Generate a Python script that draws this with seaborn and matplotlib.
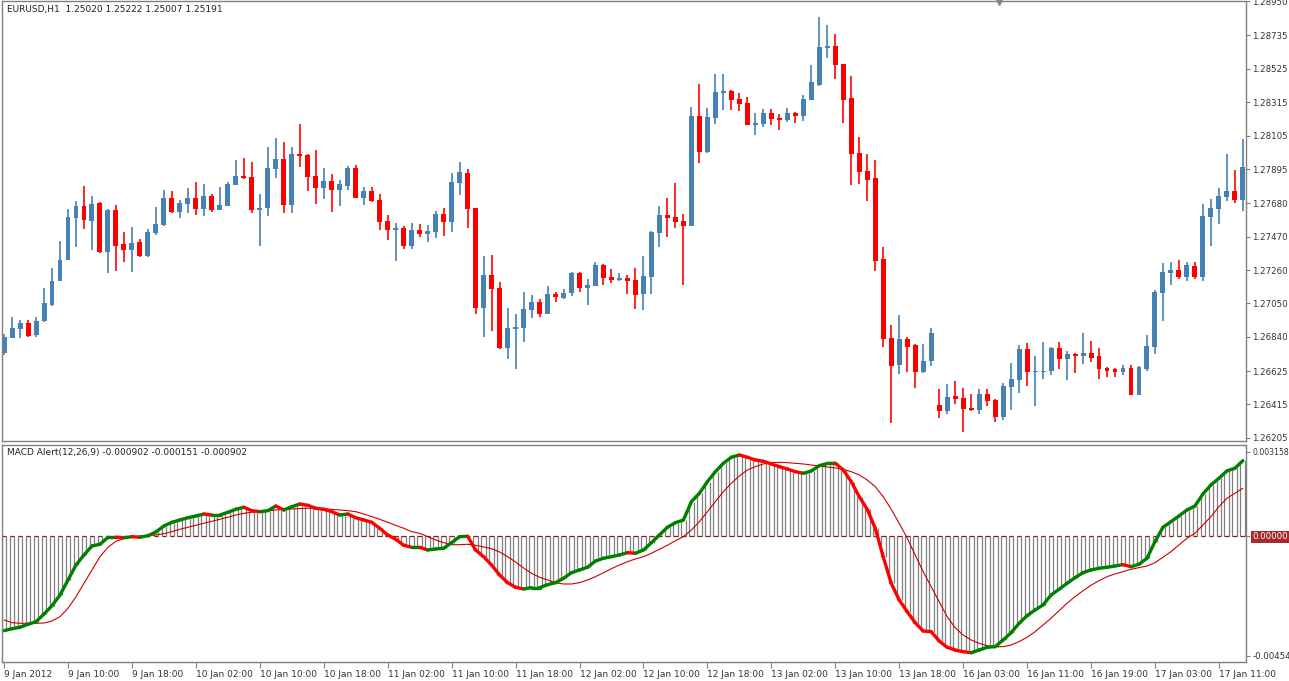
import numpy as np
import pandas as pd
import matplotlib
matplotlib.use("Agg")
import matplotlib.pyplot as plt
import seaborn as sns

# EURUSD H1 candles, 9 Jan 2012 02:00 .. 17 Jan 2012 11:00
open_ = [1.26736, 1.26832, 1.26890, 1.26928, 1.26851, 1.26941, 1.27043, 1.27190, 1.27325, 1.27587,
         1.27664, 1.27568, 1.27683, 1.27376, 1.27638, 1.27421, 1.27389, 1.27434, 1.27350, 1.27491,
         1.27542, 1.27715, 1.27626, 1.27677, 1.27715, 1.27645, 1.27728, 1.27638, 1.27664, 1.27792,
         1.27850, 1.27843, 1.27638, 1.27651, 1.27894, 1.27958, 1.27670, 1.27990, 1.27984, 1.27850,
         1.27773, 1.27818, 1.27766, 1.27786, 1.27901, 1.27715, 1.27760, 1.27702, 1.27568, 1.27510,
         1.27523, 1.27414, 1.27510, 1.27485, 1.27498, 1.27613, 1.27562, 1.27805, 1.27869, 1.27651,
         1.27024, 1.27229, 1.27146, 1.26768, 1.26890, 1.26896, 1.27011, 1.27062, 1.26986, 1.27107,
         1.27082, 1.27114, 1.27242, 1.27146, 1.27158, 1.27293, 1.27216, 1.27197, 1.27210, 1.27197,
         1.27107, 1.27216, 1.27491, 1.27606, 1.27594, 1.27568, 1.27536, 1.28227, 1.28003, 1.28214,
         1.28374, 1.28387, 1.28336, 1.28310, 1.28170, 1.28176, 1.28246, 1.28214, 1.28202, 1.28246,
         1.28227, 1.28330, 1.28426, 1.28656, 1.28669, 1.28554, 1.28342, 1.27997, 1.27882, 1.27837,
         1.27331, 1.26832, 1.26666, 1.26826, 1.26787, 1.26621, 1.26691, 1.26410, 1.26371, 1.26467,
         1.26454, 1.26390, 1.26378, 1.26480, 1.26442, 1.26339, 1.26525, 1.26570, 1.26762, 1.26621,
         1.26621, 1.26627, 1.26768, 1.26698, 1.26730, 1.26717, 1.26736, 1.26717, 1.26646, 1.26640,
         1.26621, 1.26646, 1.26474, 1.26640, 1.26774, 1.27114, 1.27242, 1.27261, 1.27216, 1.27286,
         1.27216, 1.27594, 1.27645, 1.27722, 1.27754, 1.27702]
high = [1.26858, 1.26966, 1.26947, 1.26947, 1.26966, 1.27146, 1.27274, 1.27440, 1.27645, 1.27696,
        1.27786, 1.27728, 1.27690, 1.27645, 1.27670, 1.27498, 1.27530, 1.27453, 1.27517, 1.27658,
        1.27766, 1.27760, 1.27702, 1.27773, 1.27811, 1.27798, 1.27741, 1.27779, 1.27811, 1.27952,
        1.27965, 1.27939, 1.27741, 1.28035, 1.28093, 1.28067, 1.28035, 1.28176, 1.27990, 1.28016,
        1.27901, 1.27862, 1.27824, 1.27914, 1.27920, 1.27779, 1.27779, 1.27741, 1.27606, 1.27555,
        1.27536, 1.27555, 1.27549, 1.27542, 1.27632, 1.27651, 1.27869, 1.27939, 1.27894, 1.27651,
        1.27350, 1.27357, 1.27184, 1.27024, 1.26986, 1.27120, 1.27101, 1.27075, 1.27158, 1.27120,
        1.27139, 1.27248, 1.27248, 1.27203, 1.27312, 1.27299, 1.27267, 1.27242, 1.27229, 1.27274,
        1.27350, 1.27504, 1.27664, 1.27715, 1.27805, 1.27613, 1.28285, 1.28432, 1.28278, 1.28490,
        1.28490, 1.28394, 1.28374, 1.28349, 1.28246, 1.28272, 1.28272, 1.28240, 1.28278, 1.28253,
        1.28362, 1.28547, 1.28848, 1.28803, 1.28746, 1.28554, 1.28477, 1.28099, 1.27990, 1.27952,
        1.27408, 1.26915, 1.26979, 1.26838, 1.26794, 1.26794, 1.26896, 1.26512, 1.26544, 1.26563,
        1.26518, 1.26480, 1.26512, 1.26512, 1.26448, 1.26550, 1.26678, 1.26787, 1.26800, 1.26717,
        1.26806, 1.26774, 1.26806, 1.26749, 1.26736, 1.26864, 1.26813, 1.26768, 1.26653, 1.26646,
        1.26666, 1.26666, 1.26659, 1.26851, 1.27133, 1.27306, 1.27312, 1.27325, 1.27312, 1.27312,
        1.27677, 1.27709, 1.27773, 1.27990, 1.27888, 1.28086]
low = [1.26723, 1.26832, 1.26832, 1.26838, 1.26838, 1.26934, 1.27037, 1.27190, 1.27325, 1.27402,
       1.27517, 1.27389, 1.27370, 1.27242, 1.27254, 1.27312, 1.27248, 1.27344, 1.27344, 1.27478,
       1.27536, 1.27619, 1.27587, 1.27619, 1.27606, 1.27600, 1.27626, 1.27638, 1.27664, 1.27792,
       1.27830, 1.27619, 1.27414, 1.27600, 1.27837, 1.27619, 1.27619, 1.27907, 1.27760, 1.27677,
       1.27709, 1.27626, 1.27664, 1.27766, 1.27715, 1.27670, 1.27690, 1.27510, 1.27446, 1.27318,
       1.27395, 1.27395, 1.27466, 1.27434, 1.27459, 1.27472, 1.27498, 1.27734, 1.27523, 1.26986,
       1.26838, 1.26877, 1.26762, 1.26698, 1.26640, 1.26806, 1.26960, 1.26966, 1.26986, 1.27062,
       1.27075, 1.27094, 1.27120, 1.27043, 1.27158, 1.27165, 1.27178, 1.27190, 1.27107, 1.27018,
       1.27011, 1.27107, 1.27408, 1.27466, 1.27523, 1.27165, 1.27536, 1.27933, 1.27997, 1.28176,
       1.28266, 1.28266, 1.28259, 1.28170, 1.28106, 1.28157, 1.28170, 1.28138, 1.28189, 1.28182,
       1.28195, 1.28330, 1.28419, 1.28592, 1.28458, 1.28182, 1.27792, 1.27798, 1.27696, 1.27254,
       1.26774, 1.26301, 1.26608, 1.26621, 1.26518, 1.26614, 1.26659, 1.26333, 1.26352, 1.26416,
       1.26243, 1.26371, 1.26352, 1.26403, 1.26307, 1.26320, 1.26378, 1.26486, 1.26531, 1.26403,
       1.26576, 1.26602, 1.26640, 1.26570, 1.26614, 1.26672, 1.26685, 1.26576, 1.26589, 1.26589,
       1.26602, 1.26474, 1.26474, 1.26627, 1.26730, 1.26941, 1.27165, 1.27203, 1.27190, 1.27203,
       1.27190, 1.27414, 1.27549, 1.27696, 1.27683, 1.27632]
close = [1.26838, 1.26896, 1.26928, 1.26845, 1.26941, 1.27050, 1.27190, 1.27325, 1.27594, 1.27664,
         1.27574, 1.27677, 1.27376, 1.27638, 1.27414, 1.27389, 1.27427, 1.27350, 1.27498, 1.27549,
         1.27715, 1.27626, 1.27683, 1.27715, 1.27645, 1.27728, 1.27638, 1.27670, 1.27798, 1.27850,
         1.27837, 1.27638, 1.27651, 1.27901, 1.27958, 1.27670, 1.27990, 1.27978, 1.27843, 1.27773,
         1.27818, 1.27766, 1.27798, 1.27901, 1.27715, 1.27760, 1.27696, 1.27562, 1.27510, 1.27523,
         1.27414, 1.27510, 1.27485, 1.27504, 1.27613, 1.27562, 1.27811, 1.27875, 1.27645, 1.27024,
         1.27229, 1.27139, 1.26768, 1.26896, 1.26902, 1.27018, 1.27062, 1.26986, 1.27107, 1.27088,
         1.27114, 1.27242, 1.27146, 1.27165, 1.27293, 1.27210, 1.27197, 1.27210, 1.27190, 1.27101,
         1.27222, 1.27498, 1.27606, 1.27587, 1.27562, 1.27536, 1.28227, 1.28003, 1.28221, 1.28381,
         1.28387, 1.28330, 1.28304, 1.28170, 1.28182, 1.28246, 1.28208, 1.28202, 1.28246, 1.28227,
         1.28336, 1.28445, 1.28662, 1.28669, 1.28547, 1.28330, 1.27990, 1.27875, 1.27824, 1.27318,
         1.26826, 1.26659, 1.26826, 1.26774, 1.26621, 1.26691, 1.26864, 1.26371, 1.26461, 1.26448,
         1.26384, 1.26378, 1.26480, 1.26435, 1.26339, 1.26531, 1.26576, 1.26762, 1.26621, 1.26627,
         1.26627, 1.26768, 1.26698, 1.26730, 1.26717, 1.26736, 1.26710, 1.26640, 1.26627, 1.26621,
         1.26646, 1.26474, 1.26653, 1.26781, 1.27120, 1.27248, 1.27261, 1.27216, 1.27293, 1.27216,
         1.27600, 1.27651, 1.27728, 1.27754, 1.27702, 1.27907]

# MACD main and signal lines
macd_main = [-0.003585, -0.003510, -0.003457, -0.003344, -0.003246, -0.002955, -0.002642, -0.002238, -0.001672, -0.001106,
             -0.000728, -0.000389, -0.000325, -0.000060, -0.000060, -0.000075, -0.000038, -0.000060, 0.000000, 0.000140,
             0.000366, 0.000506, 0.000593, 0.000679, 0.000743, 0.000819, 0.000781, 0.000781, 0.000883, 0.000996,
             0.001072, 0.000944, 0.000906, 0.000944, 0.001121, 0.000970, 0.001094, 0.001196, 0.001147, 0.001034,
             0.000996, 0.000906, 0.000781, 0.000819, 0.000679, 0.000593, 0.000506, 0.000279, 0.000026, -0.000136,
             -0.000362, -0.000438, -0.000438, -0.000540, -0.000502, -0.000476, -0.000264, -0.000038, -0.000023, -0.000540,
             -0.000793, -0.001106, -0.001483, -0.001774, -0.001947, -0.002012, -0.001962, -0.001962, -0.001849, -0.001774,
             -0.001608, -0.001396, -0.001294, -0.001193, -0.000955, -0.000853, -0.000793, -0.000728, -0.000642, -0.000664,
             -0.000540, -0.000264, 0.000026, 0.000317, 0.000491, 0.000593, 0.001283, 0.001600, 0.002038, 0.002415,
             0.002732, 0.002959, 0.003046, 0.002959, 0.002857, 0.002808, 0.002706, 0.002604, 0.002517, 0.002415,
             0.002355, 0.002442, 0.002642, 0.002725, 0.002732, 0.002480, 0.002038, 0.001472, 0.000996, 0.000279,
             -0.000793, -0.001796, -0.002427, -0.002868, -0.003283, -0.003597, -0.003623, -0.003974, -0.004212, -0.004314,
             -0.004378, -0.004416, -0.004314, -0.004212, -0.004189, -0.003936, -0.003661, -0.003306, -0.003019, -0.002804,
             -0.002615, -0.002238, -0.002023, -0.001796, -0.001585, -0.001396, -0.001294, -0.001230, -0.001193, -0.001144,
             -0.001094, -0.001170, -0.001079, -0.000853, -0.000226, 0.000317, 0.000528, 0.000743, 0.000970, 0.001121,
             0.001574, 0.001913, 0.002166, 0.002442, 0.002544, 0.002831]
macd_signal = [-0.003181, -0.003283, -0.003306, -0.003306, -0.003306, -0.003295, -0.003219, -0.003057, -0.002740, -0.002302,
               -0.001796, -0.001294, -0.000793, -0.000438, -0.000211, -0.000113, -0.000049, -0.000011, 0.000000, 0.000026,
               0.000075, 0.000151, 0.000242, 0.000317, 0.000392, 0.000468, 0.000543, 0.000619, 0.000694, 0.000781,
               0.000845, 0.000883, 0.000921, 0.000932, 0.000970, 0.000996, 0.001008, 0.001019, 0.001034, 0.001034,
               0.001019, 0.000996, 0.000970, 0.000944, 0.000906, 0.000819, 0.000717, 0.000619, 0.000506, 0.000392,
               0.000279, 0.000151, 0.000091, -0.000038, -0.000162, -0.000264, -0.000340, -0.000340, -0.000325, -0.000362,
               -0.000426, -0.000491, -0.000615, -0.000793, -0.000993, -0.001219, -0.001419, -0.001570, -0.001672, -0.001774,
               -0.001823, -0.001823, -0.001774, -0.001672, -0.001547, -0.001396, -0.001245, -0.001106, -0.000981, -0.000879,
               -0.000793, -0.000664, -0.000513, -0.000362, -0.000189, -0.000038, 0.000215, 0.000528, 0.000906, 0.001283,
               0.001661, 0.001978, 0.002253, 0.002480, 0.002604, 0.002706, 0.002755, 0.002770, 0.002755, 0.002732,
               0.002706, 0.002668, 0.002630, 0.002593, 0.002555, 0.002506, 0.002415, 0.002291, 0.002102, 0.001849,
               0.001472, 0.000996, 0.000468, -0.000098, -0.000728, -0.001359, -0.001925, -0.002491, -0.003057, -0.003472,
               -0.003748, -0.003936, -0.004061, -0.004151, -0.004189, -0.004189, -0.004125, -0.004000, -0.003834, -0.003623,
               -0.003370, -0.003117, -0.002831, -0.002551, -0.002302, -0.002076, -0.001872, -0.001698, -0.001547, -0.001445,
               -0.001359, -0.001268, -0.001208, -0.001144, -0.001019, -0.000815, -0.000604, -0.000351, -0.000098, 0.000091,
               0.000404, 0.000717, 0.001094, 0.001411, 0.001600, 0.001789]

price_ticks = [1.28950, 1.28735, 1.28525, 1.28315, 1.28105, 1.27895, 1.27680, 1.27470,
               1.27260, 1.27050, 1.26840, 1.26625, 1.26415, 1.26205]
macd_ticks = [0.003158, 0.0, -0.00454]
macd_tick_labels = ["0.003158", "0.00000", "-0.00454"]
time_labels = ["9 Jan 2012", "9 Jan 10:00", "9 Jan 18:00", "10 Jan 02:00", "10 Jan 10:00",
               "10 Jan 18:00", "11 Jan 02:00", "11 Jan 10:00", "11 Jan 18:00", "12 Jan 02:00",
               "12 Jan 10:00", "12 Jan 18:00", "13 Jan 02:00", "13 Jan 10:00", "13 Jan 18:00",
               "16 Jan 03:00", "16 Jan 11:00", "16 Jan 19:00", "17 Jan 03:00", "17 Jan 11:00"]

df = pd.DataFrame({"open": open_, "high": high, "low": low, "close": close,
                   "main": macd_main, "signal": macd_signal})
df["bar"] = np.arange(len(df))

sns.set_style("white")
plt.rcParams["font.family"] = ["DejaVu Sans"]

fig = plt.figure(figsize=(12.89, 6.81), dpi=100)
ax = fig.add_axes([0.0016, 0.3524, 0.9651, 0.6461])
ax2 = fig.add_axes([0.0016, 0.0279, 0.9651, 0.3187])

up_col = "#4682B4"
dn_col = "#FF0000"
cols = np.where(df["close"] >= df["open"], up_col, dn_col)

# candles
ax.vlines(df["bar"], df["low"], df["high"], colors=cols, linewidth=1.2)
body_lo = np.minimum(df["open"], df["close"])
body_h = np.maximum(np.abs(df["close"] - df["open"]), 0.00003)
ax.bar(df["bar"], body_h, bottom=body_lo, width=0.62, color=cols, linewidth=0)

ax.set_xlim(-0.25, 155.4)
ax.set_ylim(1.261852, 1.289512)
ax.yaxis.tick_right()
ax.set_yticks(price_ticks)
ax.set_yticklabels([f"{t:.5f}" for t in price_ticks])
ax.set_xticks([])
ax.text(0.004, 0.992, "EURUSD,H1  1.25020 1.25222 1.25007 1.25191", transform=ax.transAxes,
        fontsize=6.5, va="top", ha="left", color="#222222")
ax.plot([0.801], [0.998], marker="v", color="#888888", markersize=5, transform=ax.transAxes, clip_on=False)

# MACD panel
zeros = np.zeros(len(df))
ax2.vlines(df["bar"] - 0.3, zeros, df["main"], colors="#808080", linewidth=0.9)
ax2.vlines(df["bar"] + 0.3, zeros, df["main"], colors="#808080", linewidth=0.9)
ax2.hlines(zeros, df["bar"] - 0.3, df["bar"] + 0.3, colors="#8B1A1A", linewidth=0.9)
sns.lineplot(data=df, x="bar", y="signal", ax=ax2, color="#CC0000", linewidth=0.8)
for i in range(1, len(df)):
    c = "#008000" if df["main"][i] >= df["main"][i - 1] else "#FF0000"
    ax2.plot([i - 1, i], [df["main"][i - 1], df["main"][i]], color=c, linewidth=2.4,
             solid_capstyle="round")

ax2.set_xlim(-0.25, 155.4)
ax2.set_ylim(-0.004767, 0.003423)
ax2.yaxis.tick_right()
ax2.set_yticks(macd_ticks)
ax2.set_yticklabels(macd_tick_labels)
ax2.set_ylabel("")
ax2.set_xlabel("")
ax2.set_xticks(np.arange(0, 156, 8))
ax2.set_xticklabels(time_labels, ha="left")
ax2.text(0.004, 0.985, "MACD Alert(12,26,9) -0.000902 -0.000151 -0.000902", transform=ax2.transAxes,
         fontsize=6.5, va="top", ha="left", color="#222222")

for a in (ax, ax2):
    for s in a.spines.values():
        s.set_color("#808080")
        s.set_linewidth(1)
    a.tick_params(axis="y", which="both", right=True, length=3, width=0.8, color="#808080",
                  labelsize=6.2, labelcolor="#333333", pad=1.5)
ax2.tick_params(axis="x", bottom=True, length=4, width=0.8, color="#808080",
                labelsize=6.5, labelcolor="#333333", pad=2)

ylabs = ax2.get_yticklabels()
ylabs[0].set_fontsize(5.6)
ylabs[1].set_color("white")
ylabs[1].set_bbox(dict(facecolor="#A52A2A", edgecolor="none", pad=1.2))

fig.savefig("out.png", dpi=100, facecolor="white")
